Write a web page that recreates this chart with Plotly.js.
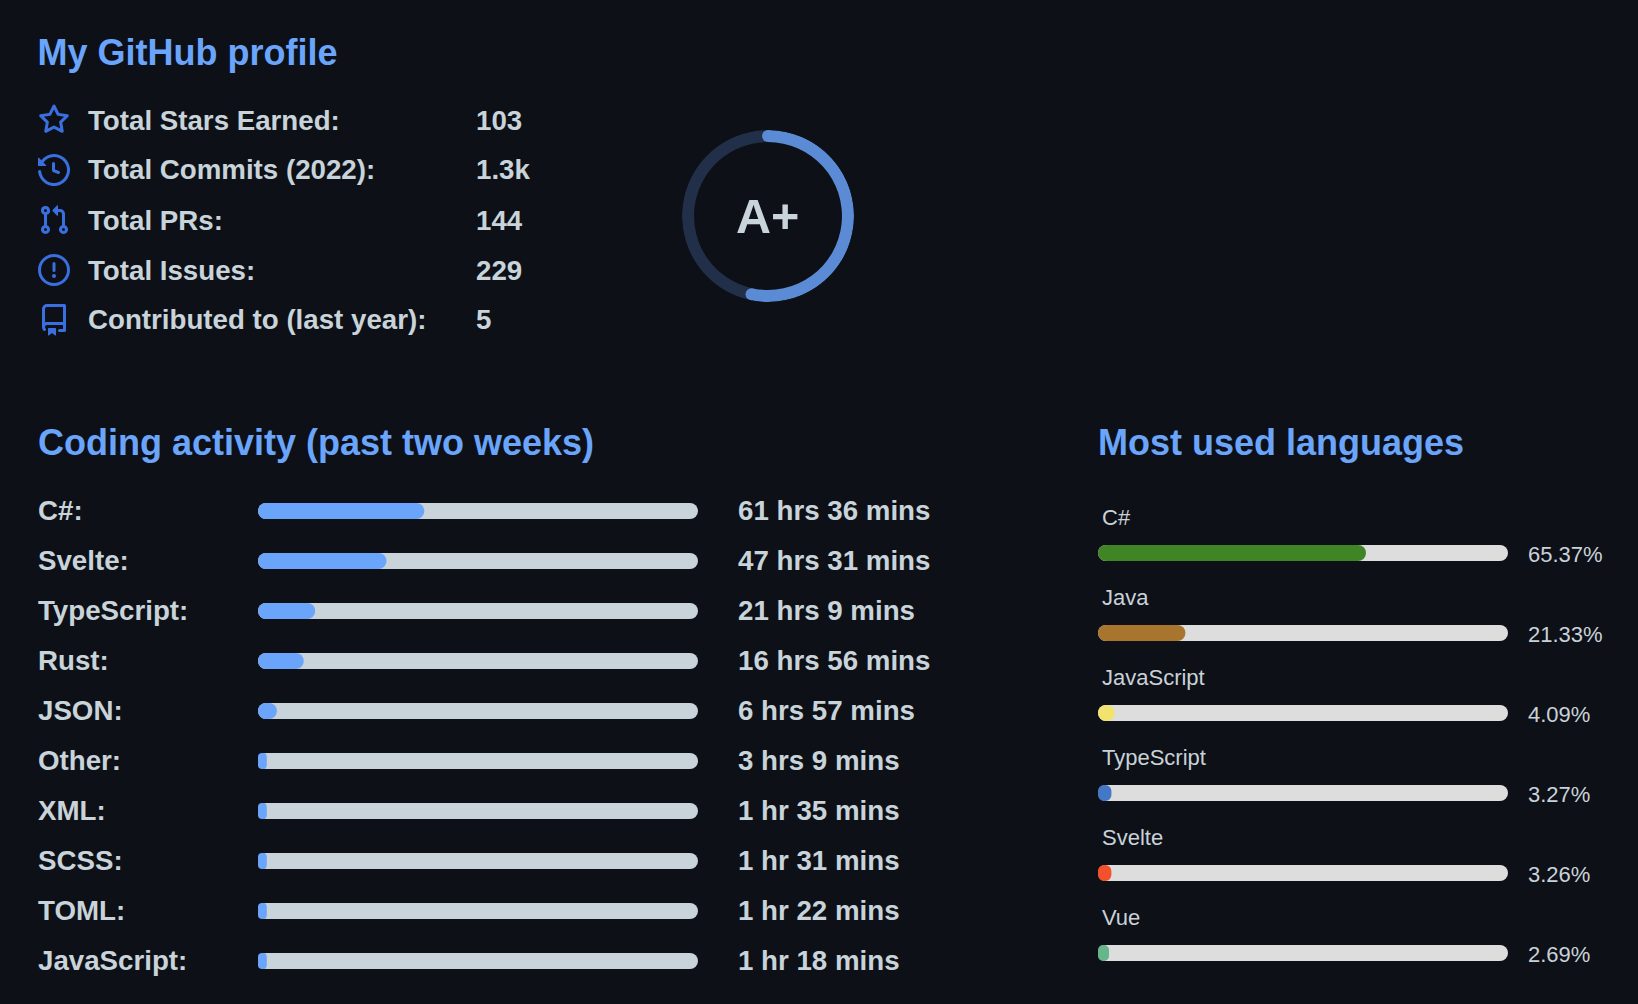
<!DOCTYPE html>
<html>
<head>
<meta charset="utf-8">
<script src="https://cdn.plot.ly/plotly-3.0.1.min.js"></script>
<style>
html,body{margin:0;padding:0;background:#0d1117;}
#chart{width:1638px;height:1004px;}
</style>
</head>
<body>
<div id="chart"></div>
<script>
// ---------- data ----------
const profileLabels = ["Total Stars Earned:", "Total Commits (2022):", "Total PRs:", "Total Issues:", "Contributed to (last year):"];
const profileValues = ["103", "1.3k", "144", "229", "5"];
const gradeLabel = "A+";
const gradeRing = [53.3, 46.7];

const codingCategories = ["C#", "Svelte", "TypeScript", "Rust", "JSON", "Other", "XML", "SCSS", "TOML", "JavaScript"];
const codingPercent = [37.8, 29.2, 13, 10.4, 4.3, 2, 2, 2, 2, 2];
const codingTimes = ["61 hrs 36 mins", "47 hrs 31 mins", "21 hrs 9 mins", "16 hrs 56 mins", "6 hrs 57 mins", "3 hrs 9 mins", "1 hr 35 mins", "1 hr 31 mins", "1 hr 22 mins", "1 hr 18 mins"];

const languageCategories = ["C#", "Java", "JavaScript", "TypeScript", "Svelte", "Vue"];
const languagePercent = [65.37, 21.33, 4.09, 3.27, 3.26, 2.69];
const languageColors = ["#3f8526", "#a8752f", "#f2e36f", "#4477c6", "#f3502c", "#66b58b"];

const titles = ["My GitHub profile", "Coding activity (past two weeks)", "Most used languages"];

// ---------- styling ----------
const W = 1638, H = 1004;
const px = v => v / W, py = v => 1 - v / H;
const BG = "#0d1117", TEXT = "#c9d3da", TEXT2 = "#c9d1d9", BLUE = "#6aa5fb", TRACK = "#c9d3da", TRACK2 = "#dddddd", ICON = "#3a6fe0";
const FONT = '"Liberation Sans", Arial, sans-serif';
const RING = "#5b8bd4", RING_BG = "#222f48";

const iconPaths = [
 "M8 .25a.75.75 0 01.673.418l1.882 3.815 4.21.612a.75.75 0 01.416 1.279l-3.046 2.97.719 4.192a.75.75 0 01-1.088.791L8 12.347l-3.766 1.98a.75.75 0 01-1.088-.79l.72-4.194L.818 6.374a.75.75 0 01.416-1.28l4.21-.611L7.327.668A.75.75 0 018 .25zm0 2.445L6.615 5.5a.75.75 0 01-.564.41l-3.097.45 2.24 2.184a.75.75 0 01.216.664l-.528 3.084 2.769-1.456a.75.75 0 01.698 0l2.77 1.456-.53-3.084a.75.75 0 01.216-.664l2.24-2.183-3.096-.45a.75.75 0 01-.564-.41L8 2.694v.001z",
 "M1.643 3.143L.427 1.927A.25.25 0 000 2.104V5.75c0 .138.112.25.25.25h3.646a.25.25 0 00.177-.427L2.715 4.215a6.5 6.5 0 11-1.18 4.458.75.75 0 10-1.493.154 8.001 8.001 0 101.6-5.684zM7.75 4a.75.75 0 01.75.75v2.992l2.028.812a.75.75 0 01-.557 1.392l-2.5-1A.75.75 0 017 8.25v-3.5A.75.75 0 017.75 4z",
 "M7.177 3.073L9.573.677A.25.25 0 0110 .854v4.792a.25.25 0 01-.427.177L7.177 3.427a.25.25 0 010-.354zM3.75 2.5a.75.75 0 100 1.5.75.75 0 000-1.5zm-2.25.75a2.25 2.25 0 113 2.122v5.256a2.251 2.251 0 11-1.5 0V5.372A2.25 2.25 0 011.5 3.25zM11 2.5h-1V4h1a1 1 0 011 1v5.628a2.251 2.251 0 101.5 0V5A2.5 2.5 0 0011 2.5zm1 10.25a.75.75 0 111.5 0 .75.75 0 01-1.5 0zM3.75 12a.75.75 0 100 1.5.75.75 0 000-1.5z",
 "M8 1.5a6.5 6.5 0 100 13 6.5 6.5 0 000-13zM0 8a8 8 0 1116 0A8 8 0 010 8zm9 3a1 1 0 11-2 0 1 1 0 012 0zm-.25-6.25a.75.75 0 00-1.5 0v3.5a.75.75 0 001.5 0v-3.5z",
 "M2 2.5A2.5 2.5 0 014.5 0h8.75a.75.75 0 01.75.75v12.5a.75.75 0 01-.75.75h-2.5a.75.75 0 110-1.5h1.75v-2h-8a1 1 0 00-.714 1.7.75.75 0 01-1.072 1.05A2.495 2.495 0 012 11.5v-9zm10.5-1V9h-8c-.356 0-.694.074-1 .208V2.5a1 1 0 011-1h8zM5 12.25v3.25a.25.25 0 00.4.2l1.45-1.087a.25.25 0 01.3 0L8.6 15.7a.25.25 0 00.4-.2v-3.25a.25.25 0 00-.25-.25h-3.5a.25.25 0 00-.25.25z"
];
const iconUri = d => "data:image/svg+xml;utf8," + encodeURIComponent(
  '<svg xmlns="http://www.w3.org/2000/svg" viewBox="0 0 16 16" width="96" height="96"><path fill="' + ICON + '" fill-rule="evenodd" d="' + d + '"/></svg>');

const ROW0 = 120, ROWSTEP = 50;
const note = (text, x, y, size, color, weight, extra) => Object.assign({
  text, x, y, xref: "paper", yref: "paper", xanchor: "left", yanchor: "middle", showarrow: false, borderpad: 0,
  font: {family: FONT, size, color, weight}
}, extra || {});

const annotations = [];
profileLabels.forEach((t, i) => {
  annotations.push(note(t, px(87), py(ROW0 + i * ROWSTEP), 27.7, TEXT, 700));
  annotations.push(note(profileValues[i], px(475), py(ROW0 + i * ROWSTEP), 27.7, TEXT, 700));
});
annotations.push(note(gradeLabel, px(767.5), py(216), 48.5, TEXT, 700, {xanchor: "center"}));
annotations.push(note(titles[1], px(37), py(442), 36, BLUE, 700));
annotations.push(note(titles[2], px(1097), py(442), 36, BLUE, 700));
codingCategories.forEach((c, i) => {
  annotations.push(note(c + ":", px(37), c, 27.7, TEXT, 700, {yref: "y", yshift: 1}));
  annotations.push(note(codingTimes[i], px(736.7), c, 27.7, TEXT, 700, {yref: "y", yshift: 1}));
});
languageCategories.forEach((c, i) => {
  annotations.push(note(c, px(1101), c, 22, TEXT2, 400, {yref: "y2", yshift: 36}));
  annotations.push(note(languagePercent[i].toFixed(2) + "%", px(1527), c, 22, TEXT2, 400, {yref: "y2", yshift: -1.5}));
});

const barTrace = (x, y, color, xa, ya, width) => ({
  type: "bar", orientation: "h", x, y, base: x.map(() => 0), width,
  marker: {color, cornerradius: 8, line: {width: 0}}, xaxis: xa, yaxis: ya, hoverinfo: "skip", showlegend: false
});

const RING_BOX = {x: [px(682), px(854)], y: [py(302), py(130)]};
const ringTotal = gradeRing[0] + gradeRing[1];
const ringDeg = gradeRing.map(v => v / ringTotal * 360);
const data = [
  {type: "barpolar", r: [0.14, 0.14], base: [0.86, 0.86],
   theta: [ringDeg[0] / 2, ringDeg[0] + ringDeg[1] / 2], width: ringDeg,
   marker: {color: [RING, RING_BG], line: {width: 0}}, subplot: "polar", hoverinfo: "skip", showlegend: false},
  {type: "scatterpolar", mode: "markers", r: [0.93, 0.93], theta: [0, ringDeg[0]],
   marker: {size: 12, color: RING, line: {width: 0}}, subplot: "polar", hoverinfo: "skip", showlegend: false},
  barTrace(codingCategories.map(() => 100), codingCategories, TRACK, "x", "y", 0.32),
  barTrace(codingPercent, codingCategories, BLUE, "x", "y", 0.32),
  barTrace(languageCategories.map(() => 100), languageCategories, TRACK2, "x2", "y2", 0.2),
  barTrace(languagePercent, languageCategories, languageColors, "x2", "y2", 0.2)
];

const hiddenAxis = o => Object.assign({visible: false, fixedrange: true, showgrid: false, zeroline: false}, o);
const layout = {
  width: W, height: H, margin: {l: 0, r: 0, t: 0, b: 0, pad: 0},
  paper_bgcolor: BG, plot_bgcolor: BG, barmode: "overlay", showlegend: false,
  font: {family: FONT, color: TEXT},
  title: {text: titles[0], x: px(37.5), xanchor: "left", xref: "paper", y: py(52), yanchor: "middle", yref: "paper",
          pad: {t: 0, b: 0, l: 0, r: 0}, font: {family: FONT, size: 36, color: BLUE, weight: 700}},
  xaxis: hiddenAxis({domain: [px(258), px(698)], range: [0, 100], anchor: "y"}),
  yaxis: hiddenAxis({domain: [py(986), py(486)], type: "category", categoryorder: "array", categoryarray: codingCategories, range: [9.5, -0.5], anchor: "x"}),
  xaxis2: hiddenAxis({domain: [px(1098), px(1508)], range: [0, 100], anchor: "y2"}),
  yaxis2: hiddenAxis({domain: [py(993), py(513)], type: "category", categoryorder: "array", categoryarray: languageCategories, range: [5.5, -0.5], anchor: "x2"}),
  polar: {domain: RING_BOX, bgcolor: "rgba(0,0,0,0)", barmode: "overlay",
          radialaxis: {visible: false, range: [0, 1]},
          angularaxis: {visible: false, rotation: 90, direction: "clockwise"}},
  annotations,
  images: iconPaths.map((d, i) => ({
    source: iconUri(d), xref: "paper", yref: "paper", x: px(54), y: py(ROW0 + i * ROWSTEP),
    sizex: 32 / W, sizey: 32 / H, xanchor: "center", yanchor: "middle", sizing: "contain", layer: "above"
  }))
};
Plotly.newPlot("chart", data, layout, {displayModeBar: false, staticPlot: true});
</script>
</body>
</html>
